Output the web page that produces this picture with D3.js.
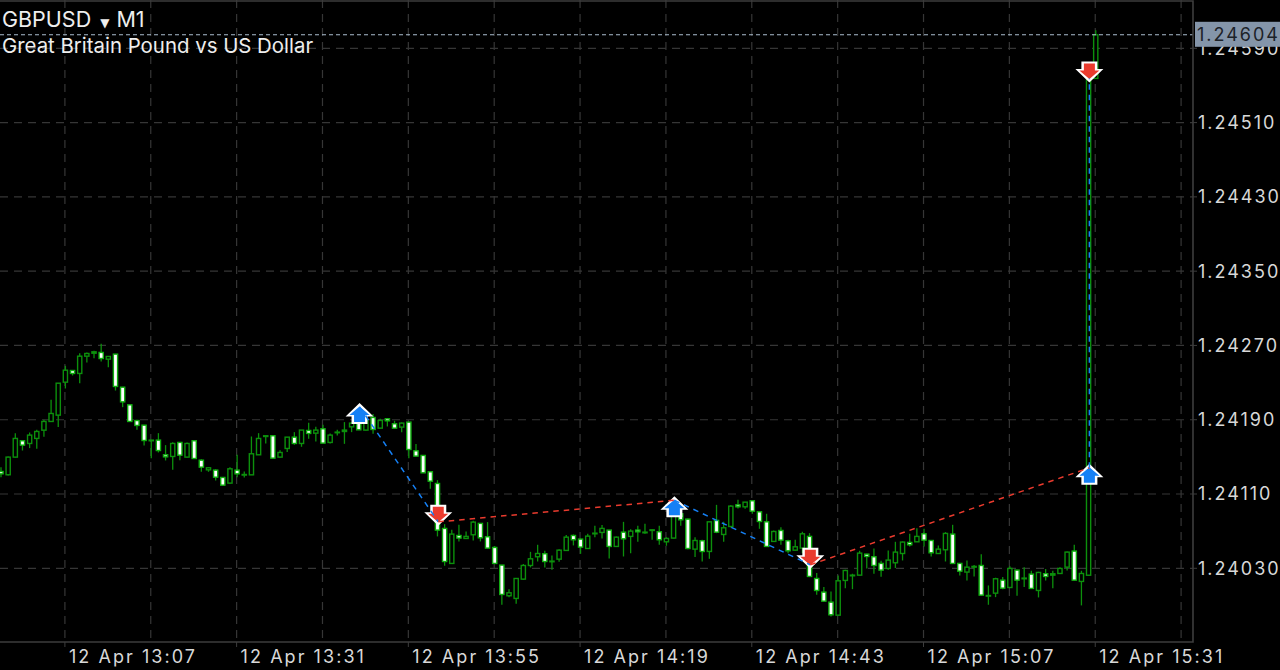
<!DOCTYPE html>
<html><head><meta charset="utf-8">
<script src="https://cdn.jsdelivr.net/npm/d3@7/dist/d3.min.js"></script>
<style>
html,body{margin:0;padding:0;background:#000;overflow:hidden}
svg{display:block}
text{font-family:Inter,"Liberation Sans",sans-serif}
</style></head><body><svg id="c" width="1280" height="670"></svg>
<script>
// Candle prices, in points (1e-5) above 1.24000, one candle per minute from 12:58
const highs=[138.4,149.9,175,166.8,175.7,178.6,189.4,210.9,228.8,247.5,
242.5,261.1,261.9,263.7,271.2,257.6,260.1,224.5,205.5,189.4,
183.6,167.8,175,162.1,165.3,165,165,166.8,147,138.4,
136.2,127.3,138.4,151.7,133.7,171.4,175,172.5,172.2,156.7,
170.7,176.1,178.3,186.2,181.8,184,174.7,178.6,186.9,186.9,
189.4,194.8,195.5,190.5,191.2,188.3,186.5,186.9,163.2,151,
133.4,124.4,77,71,76.3,69.2,80.6,77.8,79.2,53.4,
32.9,7,18.9,34,47.2,54.8,48.3,43.3,50.1,65.2,
65.9,61.6,66.6,75.2,76,70.6,63.8,79.5,71.6,75.2,
77.4,71.6,75.2,63,88.9,92.5,83.1,63,60.2,79.9,
97.8,79.5,97.5,103.2,100.7,102.2,90.3,88.2,70.2,73.8,
60.2,60.2,68.8,67.3,24.3,9.2,4.5,21.8,27.9,23.6,
48.3,45.1,50.8,37.6,48.7,58,58.4,66.6,72.7,72,
59.4,54.1,68.4,76.3,35,37.9,32.9,44.7,11,19.3,
20,31.8,27.9,30.7,26.8,25.7,28.6,26.8,30.7,47.6,
54.8,26.8,557,609];
const lows=[127.6,129.4,148.8,156.3,158.9,158.1,171.1,187.6,181.5,223.1,
237.1,228.8,251.1,255.8,252.2,246.1,220.9,203,187.2,178.6,
161.7,148.1,154.2,145.6,135.5,145.9,148.8,147.4,133.4,133.4,
124,118.7,120.5,127.6,127.3,130.1,151.7,163.9,147.7,148.8,
154.6,162.5,160.3,168.9,166.1,163.9,163.9,172.5,163.5,176.1,
178.3,177.9,174.3,180,182.2,180,176.1,148.1,149.9,132,
115.1,63.8,32.2,34.3,58.4,61.3,59.5,58.4,50.8,34.3,
-9.8,-1.6,-8.7,17.1,30.4,36.8,30.4,27.9,36.5,48,
54.1,45.1,50.5,63,61.6,40.1,52.6,42.2,45.8,58,
66.6,60.2,54.8,53.7,61.6,75.2,50.1,41.5,36.8,39.7,
67.3,58,73.4,93.9,93.5,88.2,72,53,58,54.8,
45.8,48.3,45.8,20,1,-6.2,-22.4,-21.3,8.1,7,
21.8,29.3,23.6,20.3,27.9,29.7,37.9,53,57.7,53,
42.2,45.1,36.8,34.3,21.8,16.4,20.7,-0.1,-9.8,-1.6,
7,8.5,-0.1,9.2,7.4,-1.9,16.4,8.1,23.6,27.1,
16.4,-10.5,22,557];
const opens=[133.7,130.2,149.2,166.8,163.9,169.3,178.2,187.6,194.4,229.9,
242.5,239.3,257.9,261.1,261.9,254.7,260.1,224.5,205.5,188.6,
183.6,166.8,167.5,151.7,149.9,165,149.2,166.8,145.9,135.5,
135.2,127.3,121.2,135.2,130.1,130.1,151.7,171.4,172.2,149.2,
158.5,170.7,163.9,177.9,175,179.7,165,175.7,176.8,181.8,
187.6,178.3,191.9,180.4,190.5,185.1,181.5,186.9,156,151,
133.4,120.8,72.4,34.7,64.8,61.6,65.6,77.8,63.4,51.9,
32.9,-0.1,-3,17.8,32.5,41.9,45.1,36.5,39.3,48.7,
64.8,60.9,50.8,66.6,68.1,70.6,53,68.4,63.8,70.6,
67.7,70.2,68.8,58,62,88.2,82.4,50.1,59.1,47.6,
81,65.9,74.5,97.8,95.7,102.2,90.3,79.5,58.4,70.2,
59.1,49,51.2,63.8,18.5,3.8,-7,-21,16.4,21.4,
22.1,44.7,41.9,34.7,29.3,35.4,45.4,57.3,58,66.6,
59.4,45.4,49.4,66.3,34.7,25.4,30.7,32.5,-0.5,2.7,
16.7,8.8,27.5,18.2,23.2,5.6,23.6,22.1,23.9,30.7,
48,15.3,22,557];
const closes=[131.2,149.2,169.3,162.1,172.9,176.8,187.6,196.2,228.8,242.8,
239.3,257.9,260.8,262.6,255.4,257.6,225.3,208.7,187.6,183.3,
167.1,167.5,156.3,149.5,163.9,151.3,163.9,147.7,138.4,137.7,
127.6,119,136.6,131.2,130.5,152.8,169.3,172.2,148.1,154.2,
170.7,163.9,178.3,174.7,178.3,164.3,172.9,176.1,178.3,185.8,
178.6,189.4,179,188.7,188.3,180.4,185.8,157.4,150.3,132.3,
123.3,70.6,36.8,66.3,62,63.8,79.2,62.3,51.2,34.7,
1.3,3.1,18.5,32.5,39.7,45.4,36.8,37.2,49,63,
60.2,52.3,64.1,67.3,72.4,53,63,61.2,69.5,68.8,
68.4,70.9,60.2,61.6,86,81.7,50.8,59.4,47.6,79.5,
68.4,73.1,96.4,95.7,100.7,91,79.9,53,69.1,59.8,
48.3,52.6,66.6,20.7,5.6,-5.9,-20.6,16,27.1,22.1,
45.8,42.2,32.5,27.5,38.3,46.9,57.7,54.8,63.8,59.8,
46.2,50.1,67,34.7,26.4,30.7,31.5,0.6,0.2,18.2,
8.1,29.3,16.7,18.9,7.8,25,20.7,23.6,29.3,46.9,
16.7,23.9,557,604];
// Trade signals (minute, price in points above 1.24000, direction)
const signalTimes=["13:48","13:59","14:32","14:51","15:30","15:30"];
const signalPoints=[203.3,79.5,102.7,33.2,137.7,557];
const signalSides=["buy","sell","buy","sell","buy","sell"];
const segmentOrder=[0,1,2,3,4];
// Axis values
const priceTicks=[1.24590,1.24510,1.24430,1.24350,1.24270,1.24190,1.24110,1.24030];
const lastPrice=1.24604;
const timeGrid=["13:07","13:19","13:31","13:43","13:55","14:07","14:19","14:31","14:43","14:55","15:07","15:19","15:31","15:43"];
const timeLabels=["13:07","13:31","13:55","14:19","14:43","15:07","15:31"];
const symbol="GBPUSD", timeframe="M1", description="Great Britain Pound vs US Dollar";

const parseT=s=>{const [h,m]=s.split(":").map(Number);return new Date(2024,3,12,h,m)};
const toPrice=p=>1.24+p/1e5;
const firstBar=parseT("12:58");
const x=d3.scaleTime().domain([firstBar,parseT("15:43")]).range([1,1181.6]);
const y=d3.scaleLinear().domain([1.24030,1.24590]).range([567.8,47.8]);
const R=1193,B=642;
const svg=d3.select("#c");
svg.append("rect").attr("width",1280).attr("height",670).attr("fill","#000");

// grids
const dash="8,6";
const gy=svg.append("g")
  .call(d3.axisRight(y).tickValues(priceTicks).tickSize(R).tickFormat(""));
gy.select(".domain").remove();
gy.selectAll("line").attr("stroke","#363636").attr("stroke-width",1.2).attr("stroke-dasharray",dash);
const gx=svg.append("g").attr("transform","translate(-1,0)")
  .call(d3.axisBottom(x).tickValues(timeGrid.map(parseT)).tickSize(B).tickFormat(""));
gx.select(".domain").remove();
gx.selectAll("line").attr("stroke","#363636").attr("stroke-width",1.2).attr("stroke-dasharray",dash);

// candles
const bars=d3.range(opens.length).map(i=>({t:d3.timeMinute.offset(firstBar,i),o:toPrice(opens[i]),h:toPrice(highs[i]),l:toPrice(lows[i]),c:toPrice(closes[i])}));
const bw=4.2;
const g=svg.append("g");
g.selectAll("line").data(bars).join("line")
 .attr("x1",d=>x(d.t)).attr("x2",d=>x(d.t)).attr("y1",d=>y(d.h)).attr("y2",d=>y(d.l))
 .attr("stroke","#0c900c").attr("stroke-width",1.3);
g.selectAll("rect").data(bars).join("rect")
 .attr("x",d=>x(d.t)-bw/2).attr("width",bw)
 .attr("y",d=>y(Math.max(d.o,d.c))).attr("height",d=>Math.max(0.6,Math.abs(y(d.o)-y(d.c))))
 .attr("fill",d=>d.c>=d.o?"#000":"#fff")
 .attr("stroke",d=>d.c>=d.o?"#0c900c":"#10b010").attr("stroke-width",1.4);

// last price line
svg.append("line").attr("x1",0).attr("x2",R).attr("y1",y(lastPrice)).attr("y2",y(lastPrice))
 .attr("stroke","#a9bccd").attr("stroke-width",1.1).attr("stroke-dasharray","4,3");

// arrows
const sig=signalTimes.map((t,i)=>({t:parseT(t),p:toPrice(signalPoints[i]),side:signalSides[i]}));
const upOuter="M0,-4 L14,9.5 L8,9.5 L8,17 L-8,17 L-8,9.5 L-14,9.5 Z";
const upInner="M0,-0.5 L10,8 L5.5,8 L5.5,15 L-5.5,15 L-5.5,8 L-10,8 Z";
const a=svg.append("g").selectAll("g").data(sig).join("g")
 .attr("transform",d=>`translate(${x(d.t)+0.8},${y(d.p)}) scale(1,${d.side==="buy"?1:-1})`);
a.append("path").attr("d",upOuter).attr("fill","#fff");
a.append("path").attr("d",upInner).attr("fill",d=>d.side==="buy"?"#1580f5":"#ea3b2e");

// connecting dashed lines
svg.append("g").selectAll("line").data(segmentOrder).join("line")
 .attr("x1",i=>x(sig[i].t)+0.8).attr("y1",i=>y(sig[i].p))
 .attr("x2",i=>x(sig[i+1].t)+0.8).attr("y2",i=>y(sig[i+1].p))
 .attr("stroke",i=>sig[i].side==="buy"?"#1580f5":"#ea3b2e")
 .attr("stroke-width",1.5).attr("stroke-dasharray","5.5,5");

// frame
svg.append("path").attr("d",`M0,1H${R}V${B}H0`).attr("fill","none").attr("stroke","#3d3d3d").attr("stroke-width",1.6);

// right axis
const ay=svg.append("g").attr("transform",`translate(${R},0)`)
 .call(d3.axisRight(y).tickValues(priceTicks).tickSize(4).tickPadding(1).tickFormat(d3.format(".5f")));
ay.select(".domain").remove();
ay.selectAll("line").attr("stroke","#3d3d3d");
ay.selectAll("text").attr("fill","#d8d8d8").attr("font-size",18).attr("letter-spacing",2.0).attr("dy","0.36em");

// bottom axis
const ax=svg.append("g").attr("transform",`translate(-1,${B})`)
 .call(d3.axisBottom(x).tickValues(timeLabels.map(parseT)).tickSize(5).tickPadding(1).tickFormat(d3.timeFormat("12 Apr %H:%M")));
ax.select(".domain").remove();
ax.selectAll("line").attr("stroke","#3d3d3d");
ax.selectAll("text").attr("fill","#d8d8d8").attr("font-size",18).attr("letter-spacing",2.05)
 .attr("text-anchor","start").attr("x",4).attr("y",8).attr("dy","0.71em");

// last price tag
svg.append("rect").attr("x",1195).attr("y",y(lastPrice)-13).attr("width",85).attr("height",25).attr("fill","#8495a9");
svg.append("text").attr("x",1197).attr("y",y(lastPrice)).attr("dy","0.36em").attr("fill","#1c2228")
 .attr("font-size",18).attr("letter-spacing",2.0).text(d3.format(".5f")(lastPrice));

// titles
const tt=svg.append("text").attr("x",2).attr("y",27).attr("fill","#eee").attr("font-size",21.5);
tt.append("tspan").text(symbol);
tt.append("tspan").attr("font-size",12).attr("dx",9).attr("font-family","DejaVu Sans").text("▼");
tt.append("tspan").attr("dx",7).text(timeframe);
svg.append("text").attr("x",2).attr("y",53).attr("fill","#eee").attr("font-size",20.4).text(description);
</script></body></html>
